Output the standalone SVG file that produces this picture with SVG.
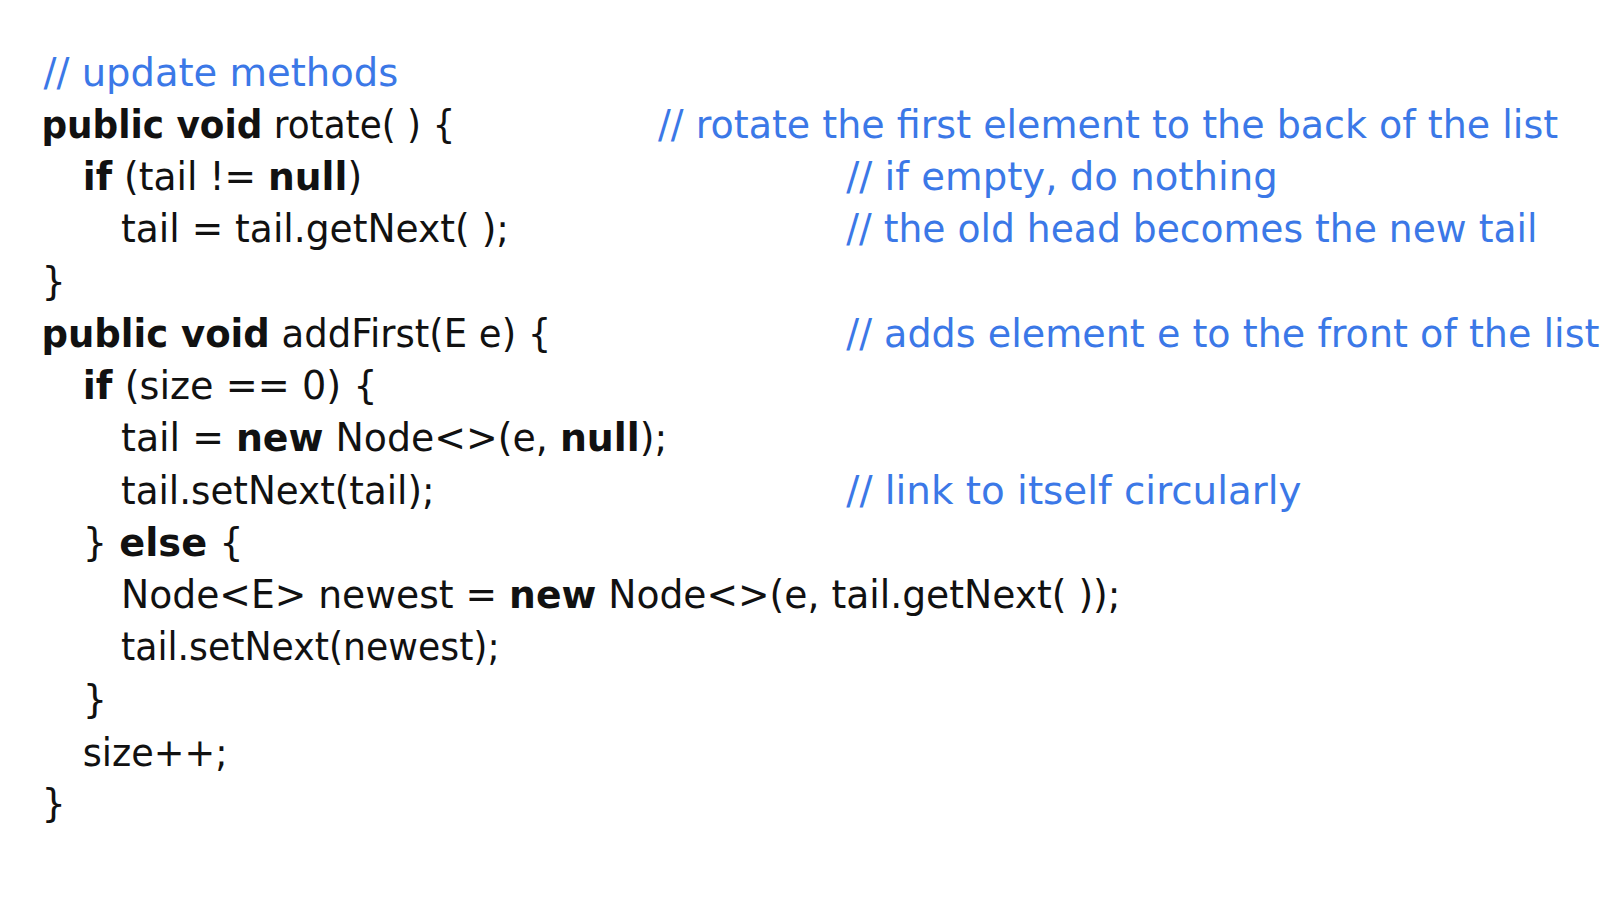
<svg xmlns="http://www.w3.org/2000/svg" width="1614" height="900" viewBox="0 0 1614 900">
<style>
text{font-family:"DejaVu Sans","Liberation Sans",sans-serif;font-size:37px;fill:#111}
.c{fill:#3b78e7}
.b{font-weight:bold}
</style>
<rect width="1614" height="900" fill="#fff"/>
<g id="code" transform="scale(1.0346)">
<text class="c" x="42" y="83" textLength="343" lengthAdjust="spacingAndGlyphs">// update methods</text>
<text x="40" y="133" textLength="400" lengthAdjust="spacingAndGlyphs"><tspan class="b">public void</tspan> rotate( ) {</text>
<text class="c" x="636" y="133" textLength="870" lengthAdjust="spacingAndGlyphs">// rotate the first element to the back of the list</text>
<text x="80" y="184" textLength="270" lengthAdjust="spacingAndGlyphs"><tspan class="b">if</tspan> (tail != <tspan class="b">null</tspan>)</text>
<text class="c" x="818" y="184" textLength="417" lengthAdjust="spacingAndGlyphs">// if empty, do nothing</text>
<text x="117" y="234" textLength="375" lengthAdjust="spacingAndGlyphs">tail = tail.getNext( );</text>
<text class="c" x="818" y="234" textLength="668" lengthAdjust="spacingAndGlyphs">// the old head becomes the new tail</text>
<text x="40" y="285">}</text>
<text x="40" y="335" textLength="493" lengthAdjust="spacingAndGlyphs"><tspan class="b">public void</tspan> addFirst(E e) {</text>
<text class="c" x="818" y="335" textLength="728" lengthAdjust="spacingAndGlyphs">// adds element e to the front of the list</text>
<text x="80" y="386" textLength="285" lengthAdjust="spacingAndGlyphs"><tspan class="b">if</tspan> (size == 0) {</text>
<text x="117" y="436" textLength="528" lengthAdjust="spacingAndGlyphs">tail = <tspan class="b">new</tspan> Node&lt;&gt;(e, <tspan class="b">null</tspan>);</text>
<text x="117" y="487" textLength="303" lengthAdjust="spacingAndGlyphs">tail.setNext(tail);</text>
<text class="c" x="818" y="487" textLength="440" lengthAdjust="spacingAndGlyphs">// link to itself circularly</text>
<text x="80" y="537">} <tspan class="b">else</tspan> {</text>
<text x="117" y="588" textLength="966" lengthAdjust="spacingAndGlyphs">Node&lt;E&gt; newest = <tspan class="b">new</tspan> Node&lt;&gt;(e, tail.getNext( ));</text>
<text x="117" y="638" textLength="366" lengthAdjust="spacingAndGlyphs">tail.setNext(newest);</text>
<text x="80" y="689">}</text>
<text x="80" y="740" textLength="140" lengthAdjust="spacingAndGlyphs">size++;</text>
<text x="40" y="790">}</text>
</g>
</svg>
